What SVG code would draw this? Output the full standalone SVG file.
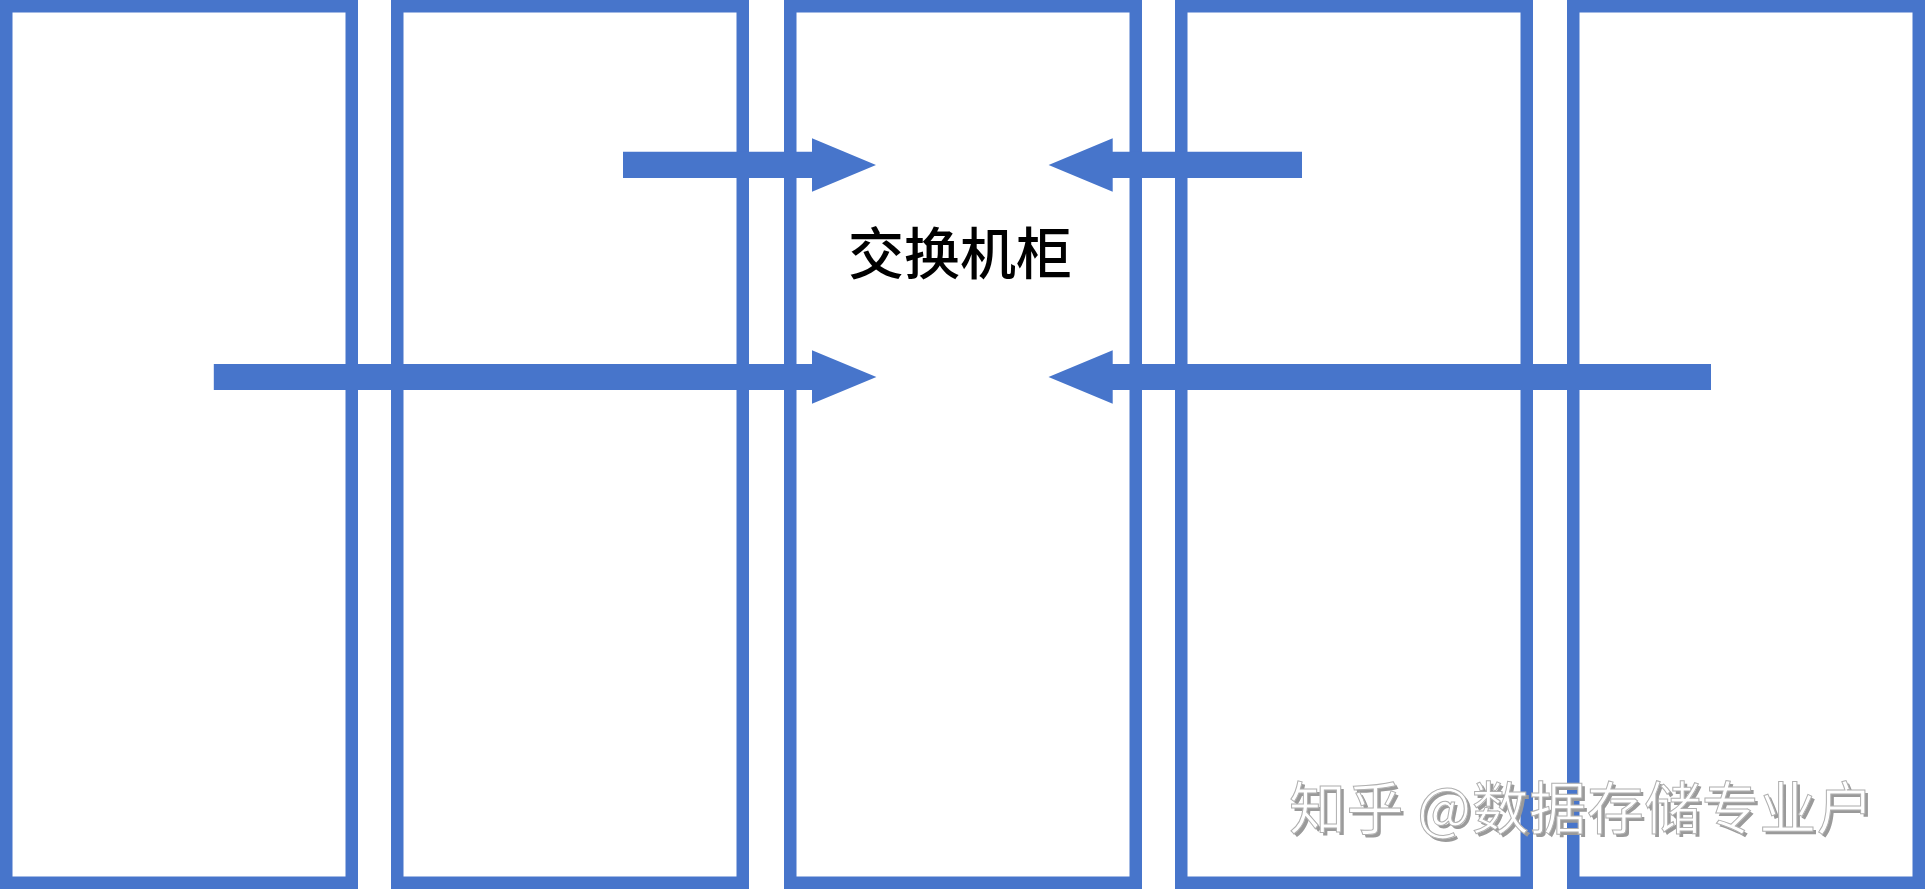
<svg xmlns="http://www.w3.org/2000/svg" width="1925" height="889" viewBox="0 0 1925 889">
<style>
.rack{fill:none;stroke:#4775CB;stroke-width:12.5}
.arr{fill:#4775CB;stroke:none}
.label{font-family:"Noto Sans CJK SC","Noto Sans",sans-serif;font-size:56px;font-weight:500;fill:#000;text-anchor:middle}
.wm{font-family:"Noto Sans CJK SC","Noto Sans",sans-serif;font-size:57px;letter-spacing:0.5px}
</style>
<rect width="1925" height="889" fill="#fff"/>
<g id="rack1"><rect class="rack" x="6.25" y="6.25" width="345.5" height="876.5"/></g>
<g id="rack2"><rect class="rack" x="397.25" y="6.25" width="345.5" height="876.5"/></g>
<g id="rack3"><rect class="rack" x="790.25" y="6.25" width="345.5" height="876.5"/>
<text class="label" x="960" y="274">交换机柜</text></g>
<g id="rack4"><rect class="rack" x="1181.25" y="6.25" width="345.5" height="876.5"/></g>
<g id="rack5"><rect class="rack" x="1573.25" y="6.25" width="345.5" height="876.5"/></g>
<g id="connectors">
<polygon class="arr" points="623,151.7 812,151.7 812,138.3 876,165 812,191.7 812,178 623,178"/>
<polygon class="arr" points="1302,151.7 1112.7,151.7 1112.7,138.3 1048.6,165 1112.7,191.7 1112.7,178 1302,178"/>
<polygon class="arr" points="213.8,364 812,364 812,350.3 876.4,377 812,403.7 812,390 213.8,390"/>
<polygon class="arr" points="1711,364 1112.7,364 1112.7,350.3 1048.5,377 1112.7,403.7 1112.7,390 1711,390"/>
</g>
<g id="watermark">
<text class="wm" x="1292" y="832" fill="#9a9a9a">知乎 @数据存储专业户</text>
<text class="wm" x="1289" y="829" fill="#fff" stroke="#b0b0b0" stroke-width="1">知乎 @数据存储专业户</text>
</g>
</svg>
